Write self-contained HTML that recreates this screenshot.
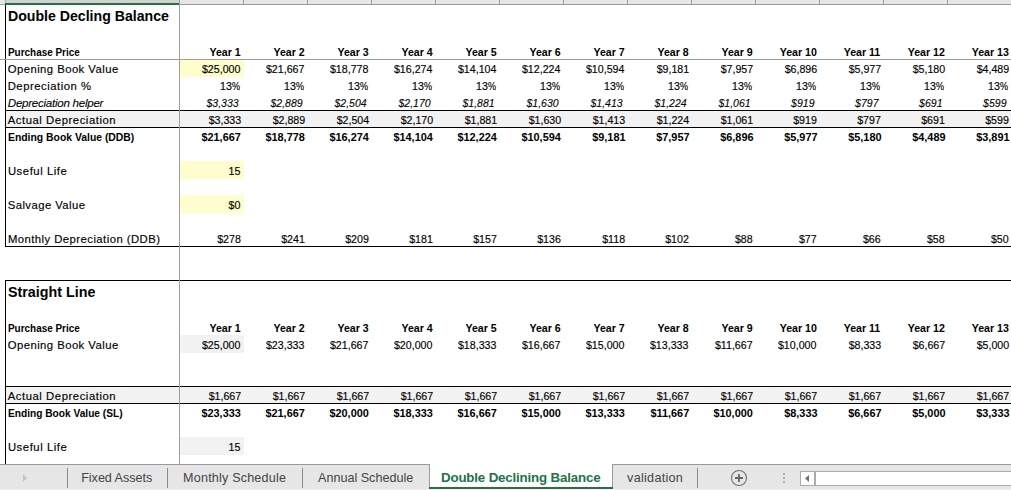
<!DOCTYPE html>
<html><head><meta charset="utf-8"><title>Double Declining Balance</title>
<style>
html,body{margin:0;padding:0;}
body{width:1011px;height:490px;overflow:hidden;background:#fff;position:relative;font-family:"Liberation Sans",sans-serif;color:#000;}
.x{position:absolute;white-space:nowrap;display:block;}
.r{position:absolute;}
.p{display:inline-block;transform:scaleX(.85);transform-origin:right center;margin-left:-1.2px;margin-right:0.7px;letter-spacing:0;}
</style></head><body>

<div class="r" style="left:0px;top:0px;width:1011px;height:4px;background:#e6e6e6;"></div>
<div class="r" style="left:0px;top:4px;width:5px;height:1px;background:#a3a3a3;"></div>
<div class="r" style="left:5px;top:0px;width:1px;height:3px;background:#ababab;"></div>
<div class="r" style="left:6px;top:0px;width:174px;height:3px;background:#d2d2d2;"></div>
<div class="r" style="left:5px;top:3px;width:175px;height:2px;background:#217346;"></div>
<div class="r" style="left:180px;top:4px;width:831px;height:1px;background:#9b9b9b;"></div>
<div class="r" style="left:179px;top:0px;width:1px;height:5px;background:#9b9b9b;"></div>
<div class="r" style="left:243px;top:0px;width:1px;height:5px;background:#9b9b9b;"></div>
<div class="r" style="left:307px;top:0px;width:1px;height:5px;background:#9b9b9b;"></div>
<div class="r" style="left:371px;top:0px;width:1px;height:5px;background:#9b9b9b;"></div>
<div class="r" style="left:435px;top:0px;width:1px;height:5px;background:#9b9b9b;"></div>
<div class="r" style="left:499px;top:0px;width:1px;height:5px;background:#9b9b9b;"></div>
<div class="r" style="left:563px;top:0px;width:1px;height:5px;background:#9b9b9b;"></div>
<div class="r" style="left:627px;top:0px;width:1px;height:5px;background:#9b9b9b;"></div>
<div class="r" style="left:691px;top:0px;width:1px;height:5px;background:#9b9b9b;"></div>
<div class="r" style="left:755px;top:0px;width:1px;height:5px;background:#9b9b9b;"></div>
<div class="r" style="left:819px;top:0px;width:1px;height:5px;background:#9b9b9b;"></div>
<div class="r" style="left:883px;top:0px;width:1px;height:5px;background:#9b9b9b;"></div>
<div class="r" style="left:947px;top:0px;width:1px;height:5px;background:#9b9b9b;"></div>
<div class="r" style="left:1011px;top:0px;width:1px;height:5px;background:#9b9b9b;"></div>
<div class="r" style="left:180px;top:60px;width:64px;height:17px;background:#fffccd;"></div>
<div class="r" style="left:180px;top:161px;width:64px;height:18px;background:#fffccd;"></div>
<div class="r" style="left:180px;top:195px;width:64px;height:18px;background:#fffccd;"></div>
<div class="r" style="left:6px;top:111px;width:1005px;height:16px;background:#f2f2f2;"></div>
<div class="r" style="left:180px;top:335px;width:64px;height:18px;background:#f2f2f2;"></div>
<div class="r" style="left:6px;top:387px;width:1005px;height:16px;background:#f2f2f2;"></div>
<div class="r" style="left:180px;top:437px;width:64px;height:18px;background:#f2f2f2;"></div>
<div class="r" style="left:5px;top:110px;width:1006px;height:1px;background:#000;"></div>
<div class="r" style="left:5px;top:127px;width:1006px;height:1px;background:#000;"></div>
<div class="r" style="left:5px;top:246px;width:1006px;height:1px;background:#000;"></div>
<div class="r" style="left:5px;top:280px;width:1006px;height:1px;background:#000;"></div>
<div class="r" style="left:5px;top:386px;width:1006px;height:1px;background:#000;"></div>
<div class="r" style="left:5px;top:403px;width:1006px;height:1px;background:#000;"></div>
<div class="r" style="left:5px;top:5px;width:1px;height:242px;background:#000;"></div>
<div class="r" style="left:5px;top:280px;width:1px;height:184px;background:#000;"></div>
<div class="r" style="left:0px;top:59px;width:1011px;height:1px;background:#9e9e9e;"></div>
<div class="r" style="left:179px;top:5px;width:1px;height:459px;background:#9e9e9e;"></div>
<span class="x" style="top:8.01px;font-size:14.40px;line-height:16px;font-weight:bold;left:7.60px;transform:scaleX(0.9815);transform-origin:left center;">Double Decling Balance</span>
<span class="x" style="top:43.82px;font-size:11.20px;line-height:16px;font-weight:bold;left:7.70px;transform:scaleX(0.8875);transform-origin:left center;">Purchase Price</span>
<span class="x" style="top:60.78px;font-size:11.30px;line-height:16px;letter-spacing:0.453px;-webkit-text-stroke:0.15px #000;left:7.70px;">Opening Book Value</span>
<span class="x" style="top:77.78px;font-size:11.30px;line-height:16px;letter-spacing:0.523px;-webkit-text-stroke:0.15px #000;left:7.70px;">Depreciation %</span>
<span class="x" style="top:94.68px;font-size:11.60px;line-height:16px;font-style:italic;letter-spacing:-0.270px;-webkit-text-stroke:0.10px #000;left:7.80px;">Depreciation helper</span>
<span class="x" style="top:111.78px;font-size:11.30px;line-height:16px;letter-spacing:0.556px;-webkit-text-stroke:0.15px #000;left:7.70px;">Actual Depreciation</span>
<span class="x" style="top:128.82px;font-size:11.20px;line-height:16px;font-weight:bold;left:7.80px;transform:scaleX(0.9280);transform-origin:left center;">Ending Book Value (DDB)</span>
<span class="x" style="top:162.78px;font-size:11.30px;line-height:16px;letter-spacing:0.550px;-webkit-text-stroke:0.15px #000;left:7.90px;">Useful Life</span>
<span class="x" style="top:196.78px;font-size:11.30px;line-height:16px;letter-spacing:0.441px;-webkit-text-stroke:0.15px #000;left:7.70px;">Salvage Value</span>
<span class="x" style="top:230.78px;font-size:11.30px;line-height:16px;letter-spacing:0.456px;-webkit-text-stroke:0.15px #000;left:7.90px;">Monthly Depreciation (DDB)</span>
<span class="x" style="top:283.71px;font-size:14.40px;line-height:16px;font-weight:bold;left:7.60px;transform:scaleX(0.9936);transform-origin:left center;">Straight Line</span>
<span class="x" style="top:319.82px;font-size:11.20px;line-height:16px;font-weight:bold;left:7.70px;transform:scaleX(0.8875);transform-origin:left center;">Purchase Price</span>
<span class="x" style="top:336.78px;font-size:11.30px;line-height:16px;letter-spacing:0.453px;-webkit-text-stroke:0.15px #000;left:7.70px;">Opening Book Value</span>
<span class="x" style="top:387.78px;font-size:11.30px;line-height:16px;letter-spacing:0.556px;-webkit-text-stroke:0.15px #000;left:7.70px;">Actual Depreciation</span>
<span class="x" style="top:404.82px;font-size:11.20px;line-height:16px;font-weight:bold;left:7.80px;transform:scaleX(0.9081);transform-origin:left center;">Ending Book Value (SL)</span>
<span class="x" style="top:438.78px;font-size:11.30px;line-height:16px;letter-spacing:0.550px;-webkit-text-stroke:0.15px #000;left:7.90px;">Useful Life</span>
<span class="x" style="top:43.85px;font-size:11.10px;line-height:16px;font-weight:bold;right:770.60px;transform:scaleX(0.9550);transform-origin:right center;">Year 1</span>
<span class="x" style="top:43.85px;font-size:11.10px;line-height:16px;font-weight:bold;right:706.60px;transform:scaleX(0.9550);transform-origin:right center;">Year 2</span>
<span class="x" style="top:43.85px;font-size:11.10px;line-height:16px;font-weight:bold;right:642.60px;transform:scaleX(0.9550);transform-origin:right center;">Year 3</span>
<span class="x" style="top:43.85px;font-size:11.10px;line-height:16px;font-weight:bold;right:578.60px;transform:scaleX(0.9550);transform-origin:right center;">Year 4</span>
<span class="x" style="top:43.85px;font-size:11.10px;line-height:16px;font-weight:bold;right:514.60px;transform:scaleX(0.9550);transform-origin:right center;">Year 5</span>
<span class="x" style="top:43.85px;font-size:11.10px;line-height:16px;font-weight:bold;right:450.60px;transform:scaleX(0.9550);transform-origin:right center;">Year 6</span>
<span class="x" style="top:43.85px;font-size:11.10px;line-height:16px;font-weight:bold;right:386.60px;transform:scaleX(0.9550);transform-origin:right center;">Year 7</span>
<span class="x" style="top:43.85px;font-size:11.10px;line-height:16px;font-weight:bold;right:322.60px;transform:scaleX(0.9550);transform-origin:right center;">Year 8</span>
<span class="x" style="top:43.85px;font-size:11.10px;line-height:16px;font-weight:bold;right:258.60px;transform:scaleX(0.9550);transform-origin:right center;">Year 9</span>
<span class="x" style="top:43.85px;font-size:11.10px;line-height:16px;font-weight:bold;right:194.60px;transform:scaleX(0.9550);transform-origin:right center;">Year 10</span>
<span class="x" style="top:43.85px;font-size:11.10px;line-height:16px;font-weight:bold;right:130.60px;transform:scaleX(0.9550);transform-origin:right center;">Year 11</span>
<span class="x" style="top:43.85px;font-size:11.10px;line-height:16px;font-weight:bold;right:66.60px;transform:scaleX(0.9550);transform-origin:right center;">Year 12</span>
<span class="x" style="top:43.85px;font-size:11.10px;line-height:16px;font-weight:bold;right:2.60px;transform:scaleX(0.9550);transform-origin:right center;">Year 13</span>
<span class="x" style="top:61.02px;font-size:11.20px;line-height:16px;-webkit-text-stroke:0.15px #000;right:770.20px;transform:scaleX(0.9520);transform-origin:right center;">$25,000</span>
<span class="x" style="top:61.02px;font-size:11.20px;line-height:16px;-webkit-text-stroke:0.15px #000;right:706.20px;transform:scaleX(0.9520);transform-origin:right center;">$21,667</span>
<span class="x" style="top:61.02px;font-size:11.20px;line-height:16px;-webkit-text-stroke:0.15px #000;right:642.20px;transform:scaleX(0.9520);transform-origin:right center;">$18,778</span>
<span class="x" style="top:61.02px;font-size:11.20px;line-height:16px;-webkit-text-stroke:0.15px #000;right:578.20px;transform:scaleX(0.9520);transform-origin:right center;">$16,274</span>
<span class="x" style="top:61.02px;font-size:11.20px;line-height:16px;-webkit-text-stroke:0.15px #000;right:514.20px;transform:scaleX(0.9520);transform-origin:right center;">$14,104</span>
<span class="x" style="top:61.02px;font-size:11.20px;line-height:16px;-webkit-text-stroke:0.15px #000;right:450.20px;transform:scaleX(0.9520);transform-origin:right center;">$12,224</span>
<span class="x" style="top:61.02px;font-size:11.20px;line-height:16px;-webkit-text-stroke:0.15px #000;right:386.20px;transform:scaleX(0.9520);transform-origin:right center;">$10,594</span>
<span class="x" style="top:61.02px;font-size:11.20px;line-height:16px;-webkit-text-stroke:0.15px #000;right:322.20px;transform:scaleX(0.9520);transform-origin:right center;">$9,181</span>
<span class="x" style="top:61.02px;font-size:11.20px;line-height:16px;-webkit-text-stroke:0.15px #000;right:258.20px;transform:scaleX(0.9520);transform-origin:right center;">$7,957</span>
<span class="x" style="top:61.02px;font-size:11.20px;line-height:16px;-webkit-text-stroke:0.15px #000;right:194.20px;transform:scaleX(0.9520);transform-origin:right center;">$6,896</span>
<span class="x" style="top:61.02px;font-size:11.20px;line-height:16px;-webkit-text-stroke:0.15px #000;right:130.20px;transform:scaleX(0.9520);transform-origin:right center;">$5,977</span>
<span class="x" style="top:61.02px;font-size:11.20px;line-height:16px;-webkit-text-stroke:0.15px #000;right:66.20px;transform:scaleX(0.9520);transform-origin:right center;">$5,180</span>
<span class="x" style="top:61.02px;font-size:11.20px;line-height:16px;-webkit-text-stroke:0.15px #000;right:2.20px;transform:scaleX(0.9520);transform-origin:right center;">$4,489</span>
<span class="x" style="top:78.02px;font-size:11.20px;line-height:16px;-webkit-text-stroke:0.15px #000;right:770.20px;transform:scaleX(0.9520);transform-origin:right center;">13<span class="p">%</span></span>
<span class="x" style="top:78.02px;font-size:11.20px;line-height:16px;-webkit-text-stroke:0.15px #000;right:706.20px;transform:scaleX(0.9520);transform-origin:right center;">13<span class="p">%</span></span>
<span class="x" style="top:78.02px;font-size:11.20px;line-height:16px;-webkit-text-stroke:0.15px #000;right:642.20px;transform:scaleX(0.9520);transform-origin:right center;">13<span class="p">%</span></span>
<span class="x" style="top:78.02px;font-size:11.20px;line-height:16px;-webkit-text-stroke:0.15px #000;right:578.20px;transform:scaleX(0.9520);transform-origin:right center;">13<span class="p">%</span></span>
<span class="x" style="top:78.02px;font-size:11.20px;line-height:16px;-webkit-text-stroke:0.15px #000;right:514.20px;transform:scaleX(0.9520);transform-origin:right center;">13<span class="p">%</span></span>
<span class="x" style="top:78.02px;font-size:11.20px;line-height:16px;-webkit-text-stroke:0.15px #000;right:450.20px;transform:scaleX(0.9520);transform-origin:right center;">13<span class="p">%</span></span>
<span class="x" style="top:78.02px;font-size:11.20px;line-height:16px;-webkit-text-stroke:0.15px #000;right:386.20px;transform:scaleX(0.9520);transform-origin:right center;">13<span class="p">%</span></span>
<span class="x" style="top:78.02px;font-size:11.20px;line-height:16px;-webkit-text-stroke:0.15px #000;right:322.20px;transform:scaleX(0.9520);transform-origin:right center;">13<span class="p">%</span></span>
<span class="x" style="top:78.02px;font-size:11.20px;line-height:16px;-webkit-text-stroke:0.15px #000;right:258.20px;transform:scaleX(0.9520);transform-origin:right center;">13<span class="p">%</span></span>
<span class="x" style="top:78.02px;font-size:11.20px;line-height:16px;-webkit-text-stroke:0.15px #000;right:194.20px;transform:scaleX(0.9520);transform-origin:right center;">13<span class="p">%</span></span>
<span class="x" style="top:78.02px;font-size:11.20px;line-height:16px;-webkit-text-stroke:0.15px #000;right:130.20px;transform:scaleX(0.9520);transform-origin:right center;">13<span class="p">%</span></span>
<span class="x" style="top:78.02px;font-size:11.20px;line-height:16px;-webkit-text-stroke:0.15px #000;right:66.20px;transform:scaleX(0.9520);transform-origin:right center;">13<span class="p">%</span></span>
<span class="x" style="top:78.02px;font-size:11.20px;line-height:16px;-webkit-text-stroke:0.15px #000;right:2.20px;transform:scaleX(0.9520);transform-origin:right center;">13<span class="p">%</span></span>
<span class="x" style="top:94.89px;font-size:11.00px;line-height:16px;font-style:italic;-webkit-text-stroke:0.10px #000;right:772.40px;transform:scaleX(0.9550);transform-origin:right center;">$3,333</span>
<span class="x" style="top:94.89px;font-size:11.00px;line-height:16px;font-style:italic;-webkit-text-stroke:0.10px #000;right:708.40px;transform:scaleX(0.9550);transform-origin:right center;">$2,889</span>
<span class="x" style="top:94.89px;font-size:11.00px;line-height:16px;font-style:italic;-webkit-text-stroke:0.10px #000;right:644.40px;transform:scaleX(0.9550);transform-origin:right center;">$2,504</span>
<span class="x" style="top:94.89px;font-size:11.00px;line-height:16px;font-style:italic;-webkit-text-stroke:0.10px #000;right:580.40px;transform:scaleX(0.9550);transform-origin:right center;">$2,170</span>
<span class="x" style="top:94.89px;font-size:11.00px;line-height:16px;font-style:italic;-webkit-text-stroke:0.10px #000;right:516.40px;transform:scaleX(0.9550);transform-origin:right center;">$1,881</span>
<span class="x" style="top:94.89px;font-size:11.00px;line-height:16px;font-style:italic;-webkit-text-stroke:0.10px #000;right:452.40px;transform:scaleX(0.9550);transform-origin:right center;">$1,630</span>
<span class="x" style="top:94.89px;font-size:11.00px;line-height:16px;font-style:italic;-webkit-text-stroke:0.10px #000;right:388.40px;transform:scaleX(0.9550);transform-origin:right center;">$1,413</span>
<span class="x" style="top:94.89px;font-size:11.00px;line-height:16px;font-style:italic;-webkit-text-stroke:0.10px #000;right:324.40px;transform:scaleX(0.9550);transform-origin:right center;">$1,224</span>
<span class="x" style="top:94.89px;font-size:11.00px;line-height:16px;font-style:italic;-webkit-text-stroke:0.10px #000;right:260.40px;transform:scaleX(0.9550);transform-origin:right center;">$1,061</span>
<span class="x" style="top:94.89px;font-size:11.00px;line-height:16px;font-style:italic;-webkit-text-stroke:0.10px #000;right:196.40px;transform:scaleX(0.9550);transform-origin:right center;">$919</span>
<span class="x" style="top:94.89px;font-size:11.00px;line-height:16px;font-style:italic;-webkit-text-stroke:0.10px #000;right:132.40px;transform:scaleX(0.9550);transform-origin:right center;">$797</span>
<span class="x" style="top:94.89px;font-size:11.00px;line-height:16px;font-style:italic;-webkit-text-stroke:0.10px #000;right:68.40px;transform:scaleX(0.9550);transform-origin:right center;">$691</span>
<span class="x" style="top:94.89px;font-size:11.00px;line-height:16px;font-style:italic;-webkit-text-stroke:0.10px #000;right:4.40px;transform:scaleX(0.9550);transform-origin:right center;">$599</span>
<span class="x" style="top:112.02px;font-size:11.20px;line-height:16px;-webkit-text-stroke:0.15px #000;right:770.20px;transform:scaleX(0.9520);transform-origin:right center;">$3,333</span>
<span class="x" style="top:112.02px;font-size:11.20px;line-height:16px;-webkit-text-stroke:0.15px #000;right:706.20px;transform:scaleX(0.9520);transform-origin:right center;">$2,889</span>
<span class="x" style="top:112.02px;font-size:11.20px;line-height:16px;-webkit-text-stroke:0.15px #000;right:642.20px;transform:scaleX(0.9520);transform-origin:right center;">$2,504</span>
<span class="x" style="top:112.02px;font-size:11.20px;line-height:16px;-webkit-text-stroke:0.15px #000;right:578.20px;transform:scaleX(0.9520);transform-origin:right center;">$2,170</span>
<span class="x" style="top:112.02px;font-size:11.20px;line-height:16px;-webkit-text-stroke:0.15px #000;right:514.20px;transform:scaleX(0.9520);transform-origin:right center;">$1,881</span>
<span class="x" style="top:112.02px;font-size:11.20px;line-height:16px;-webkit-text-stroke:0.15px #000;right:450.20px;transform:scaleX(0.9520);transform-origin:right center;">$1,630</span>
<span class="x" style="top:112.02px;font-size:11.20px;line-height:16px;-webkit-text-stroke:0.15px #000;right:386.20px;transform:scaleX(0.9520);transform-origin:right center;">$1,413</span>
<span class="x" style="top:112.02px;font-size:11.20px;line-height:16px;-webkit-text-stroke:0.15px #000;right:322.20px;transform:scaleX(0.9520);transform-origin:right center;">$1,224</span>
<span class="x" style="top:112.02px;font-size:11.20px;line-height:16px;-webkit-text-stroke:0.15px #000;right:258.20px;transform:scaleX(0.9520);transform-origin:right center;">$1,061</span>
<span class="x" style="top:112.02px;font-size:11.20px;line-height:16px;-webkit-text-stroke:0.15px #000;right:194.20px;transform:scaleX(0.9520);transform-origin:right center;">$919</span>
<span class="x" style="top:112.02px;font-size:11.20px;line-height:16px;-webkit-text-stroke:0.15px #000;right:130.20px;transform:scaleX(0.9520);transform-origin:right center;">$797</span>
<span class="x" style="top:112.02px;font-size:11.20px;line-height:16px;-webkit-text-stroke:0.15px #000;right:66.20px;transform:scaleX(0.9520);transform-origin:right center;">$691</span>
<span class="x" style="top:112.02px;font-size:11.20px;line-height:16px;-webkit-text-stroke:0.15px #000;right:2.20px;transform:scaleX(0.9520);transform-origin:right center;">$599</span>
<span class="x" style="top:128.78px;font-size:11.30px;line-height:16px;font-weight:bold;right:769.70px;transform:scaleX(0.9650);transform-origin:right center;">$21,667</span>
<span class="x" style="top:128.78px;font-size:11.30px;line-height:16px;font-weight:bold;right:705.70px;transform:scaleX(0.9650);transform-origin:right center;">$18,778</span>
<span class="x" style="top:128.78px;font-size:11.30px;line-height:16px;font-weight:bold;right:641.70px;transform:scaleX(0.9650);transform-origin:right center;">$16,274</span>
<span class="x" style="top:128.78px;font-size:11.30px;line-height:16px;font-weight:bold;right:577.70px;transform:scaleX(0.9650);transform-origin:right center;">$14,104</span>
<span class="x" style="top:128.78px;font-size:11.30px;line-height:16px;font-weight:bold;right:513.70px;transform:scaleX(0.9650);transform-origin:right center;">$12,224</span>
<span class="x" style="top:128.78px;font-size:11.30px;line-height:16px;font-weight:bold;right:449.70px;transform:scaleX(0.9650);transform-origin:right center;">$10,594</span>
<span class="x" style="top:128.78px;font-size:11.30px;line-height:16px;font-weight:bold;right:385.70px;transform:scaleX(0.9650);transform-origin:right center;">$9,181</span>
<span class="x" style="top:128.78px;font-size:11.30px;line-height:16px;font-weight:bold;right:321.70px;transform:scaleX(0.9650);transform-origin:right center;">$7,957</span>
<span class="x" style="top:128.78px;font-size:11.30px;line-height:16px;font-weight:bold;right:257.70px;transform:scaleX(0.9650);transform-origin:right center;">$6,896</span>
<span class="x" style="top:128.78px;font-size:11.30px;line-height:16px;font-weight:bold;right:193.70px;transform:scaleX(0.9650);transform-origin:right center;">$5,977</span>
<span class="x" style="top:128.78px;font-size:11.30px;line-height:16px;font-weight:bold;right:129.70px;transform:scaleX(0.9650);transform-origin:right center;">$5,180</span>
<span class="x" style="top:128.78px;font-size:11.30px;line-height:16px;font-weight:bold;right:65.70px;transform:scaleX(0.9650);transform-origin:right center;">$4,489</span>
<span class="x" style="top:128.78px;font-size:11.30px;line-height:16px;font-weight:bold;right:1.70px;transform:scaleX(0.9650);transform-origin:right center;">$3,891</span>
<span class="x" style="top:163.02px;font-size:11.20px;line-height:16px;-webkit-text-stroke:0.15px #000;right:770.20px;transform:scaleX(0.9520);transform-origin:right center;">15</span>
<span class="x" style="top:197.02px;font-size:11.20px;line-height:16px;-webkit-text-stroke:0.15px #000;right:770.20px;transform:scaleX(0.9520);transform-origin:right center;">$0</span>
<span class="x" style="top:231.02px;font-size:11.20px;line-height:16px;-webkit-text-stroke:0.15px #000;right:770.20px;transform:scaleX(0.9520);transform-origin:right center;">$278</span>
<span class="x" style="top:231.02px;font-size:11.20px;line-height:16px;-webkit-text-stroke:0.15px #000;right:706.20px;transform:scaleX(0.9520);transform-origin:right center;">$241</span>
<span class="x" style="top:231.02px;font-size:11.20px;line-height:16px;-webkit-text-stroke:0.15px #000;right:642.20px;transform:scaleX(0.9520);transform-origin:right center;">$209</span>
<span class="x" style="top:231.02px;font-size:11.20px;line-height:16px;-webkit-text-stroke:0.15px #000;right:578.20px;transform:scaleX(0.9520);transform-origin:right center;">$181</span>
<span class="x" style="top:231.02px;font-size:11.20px;line-height:16px;-webkit-text-stroke:0.15px #000;right:514.20px;transform:scaleX(0.9520);transform-origin:right center;">$157</span>
<span class="x" style="top:231.02px;font-size:11.20px;line-height:16px;-webkit-text-stroke:0.15px #000;right:450.20px;transform:scaleX(0.9520);transform-origin:right center;">$136</span>
<span class="x" style="top:231.02px;font-size:11.20px;line-height:16px;-webkit-text-stroke:0.15px #000;right:386.20px;transform:scaleX(0.9520);transform-origin:right center;">$118</span>
<span class="x" style="top:231.02px;font-size:11.20px;line-height:16px;-webkit-text-stroke:0.15px #000;right:322.20px;transform:scaleX(0.9520);transform-origin:right center;">$102</span>
<span class="x" style="top:231.02px;font-size:11.20px;line-height:16px;-webkit-text-stroke:0.15px #000;right:258.20px;transform:scaleX(0.9520);transform-origin:right center;">$88</span>
<span class="x" style="top:231.02px;font-size:11.20px;line-height:16px;-webkit-text-stroke:0.15px #000;right:194.20px;transform:scaleX(0.9520);transform-origin:right center;">$77</span>
<span class="x" style="top:231.02px;font-size:11.20px;line-height:16px;-webkit-text-stroke:0.15px #000;right:130.20px;transform:scaleX(0.9520);transform-origin:right center;">$66</span>
<span class="x" style="top:231.02px;font-size:11.20px;line-height:16px;-webkit-text-stroke:0.15px #000;right:66.20px;transform:scaleX(0.9520);transform-origin:right center;">$58</span>
<span class="x" style="top:231.02px;font-size:11.20px;line-height:16px;-webkit-text-stroke:0.15px #000;right:2.20px;transform:scaleX(0.9520);transform-origin:right center;">$50</span>
<span class="x" style="top:319.85px;font-size:11.10px;line-height:16px;font-weight:bold;right:770.60px;transform:scaleX(0.9550);transform-origin:right center;">Year 1</span>
<span class="x" style="top:319.85px;font-size:11.10px;line-height:16px;font-weight:bold;right:706.60px;transform:scaleX(0.9550);transform-origin:right center;">Year 2</span>
<span class="x" style="top:319.85px;font-size:11.10px;line-height:16px;font-weight:bold;right:642.60px;transform:scaleX(0.9550);transform-origin:right center;">Year 3</span>
<span class="x" style="top:319.85px;font-size:11.10px;line-height:16px;font-weight:bold;right:578.60px;transform:scaleX(0.9550);transform-origin:right center;">Year 4</span>
<span class="x" style="top:319.85px;font-size:11.10px;line-height:16px;font-weight:bold;right:514.60px;transform:scaleX(0.9550);transform-origin:right center;">Year 5</span>
<span class="x" style="top:319.85px;font-size:11.10px;line-height:16px;font-weight:bold;right:450.60px;transform:scaleX(0.9550);transform-origin:right center;">Year 6</span>
<span class="x" style="top:319.85px;font-size:11.10px;line-height:16px;font-weight:bold;right:386.60px;transform:scaleX(0.9550);transform-origin:right center;">Year 7</span>
<span class="x" style="top:319.85px;font-size:11.10px;line-height:16px;font-weight:bold;right:322.60px;transform:scaleX(0.9550);transform-origin:right center;">Year 8</span>
<span class="x" style="top:319.85px;font-size:11.10px;line-height:16px;font-weight:bold;right:258.60px;transform:scaleX(0.9550);transform-origin:right center;">Year 9</span>
<span class="x" style="top:319.85px;font-size:11.10px;line-height:16px;font-weight:bold;right:194.60px;transform:scaleX(0.9550);transform-origin:right center;">Year 10</span>
<span class="x" style="top:319.85px;font-size:11.10px;line-height:16px;font-weight:bold;right:130.60px;transform:scaleX(0.9550);transform-origin:right center;">Year 11</span>
<span class="x" style="top:319.85px;font-size:11.10px;line-height:16px;font-weight:bold;right:66.60px;transform:scaleX(0.9550);transform-origin:right center;">Year 12</span>
<span class="x" style="top:319.85px;font-size:11.10px;line-height:16px;font-weight:bold;right:2.60px;transform:scaleX(0.9550);transform-origin:right center;">Year 13</span>
<span class="x" style="top:337.02px;font-size:11.20px;line-height:16px;-webkit-text-stroke:0.15px #000;right:770.20px;transform:scaleX(0.9520);transform-origin:right center;">$25,000</span>
<span class="x" style="top:337.02px;font-size:11.20px;line-height:16px;-webkit-text-stroke:0.15px #000;right:706.20px;transform:scaleX(0.9520);transform-origin:right center;">$23,333</span>
<span class="x" style="top:337.02px;font-size:11.20px;line-height:16px;-webkit-text-stroke:0.15px #000;right:642.20px;transform:scaleX(0.9520);transform-origin:right center;">$21,667</span>
<span class="x" style="top:337.02px;font-size:11.20px;line-height:16px;-webkit-text-stroke:0.15px #000;right:578.20px;transform:scaleX(0.9520);transform-origin:right center;">$20,000</span>
<span class="x" style="top:337.02px;font-size:11.20px;line-height:16px;-webkit-text-stroke:0.15px #000;right:514.20px;transform:scaleX(0.9520);transform-origin:right center;">$18,333</span>
<span class="x" style="top:337.02px;font-size:11.20px;line-height:16px;-webkit-text-stroke:0.15px #000;right:450.20px;transform:scaleX(0.9520);transform-origin:right center;">$16,667</span>
<span class="x" style="top:337.02px;font-size:11.20px;line-height:16px;-webkit-text-stroke:0.15px #000;right:386.20px;transform:scaleX(0.9520);transform-origin:right center;">$15,000</span>
<span class="x" style="top:337.02px;font-size:11.20px;line-height:16px;-webkit-text-stroke:0.15px #000;right:322.20px;transform:scaleX(0.9520);transform-origin:right center;">$13,333</span>
<span class="x" style="top:337.02px;font-size:11.20px;line-height:16px;-webkit-text-stroke:0.15px #000;right:258.20px;transform:scaleX(0.9520);transform-origin:right center;">$11,667</span>
<span class="x" style="top:337.02px;font-size:11.20px;line-height:16px;-webkit-text-stroke:0.15px #000;right:194.20px;transform:scaleX(0.9520);transform-origin:right center;">$10,000</span>
<span class="x" style="top:337.02px;font-size:11.20px;line-height:16px;-webkit-text-stroke:0.15px #000;right:130.20px;transform:scaleX(0.9520);transform-origin:right center;">$8,333</span>
<span class="x" style="top:337.02px;font-size:11.20px;line-height:16px;-webkit-text-stroke:0.15px #000;right:66.20px;transform:scaleX(0.9520);transform-origin:right center;">$6,667</span>
<span class="x" style="top:337.02px;font-size:11.20px;line-height:16px;-webkit-text-stroke:0.15px #000;right:2.20px;transform:scaleX(0.9520);transform-origin:right center;">$5,000</span>
<span class="x" style="top:388.02px;font-size:11.20px;line-height:16px;-webkit-text-stroke:0.15px #000;right:770.20px;transform:scaleX(0.9520);transform-origin:right center;">$1,667</span>
<span class="x" style="top:388.02px;font-size:11.20px;line-height:16px;-webkit-text-stroke:0.15px #000;right:706.20px;transform:scaleX(0.9520);transform-origin:right center;">$1,667</span>
<span class="x" style="top:388.02px;font-size:11.20px;line-height:16px;-webkit-text-stroke:0.15px #000;right:642.20px;transform:scaleX(0.9520);transform-origin:right center;">$1,667</span>
<span class="x" style="top:388.02px;font-size:11.20px;line-height:16px;-webkit-text-stroke:0.15px #000;right:578.20px;transform:scaleX(0.9520);transform-origin:right center;">$1,667</span>
<span class="x" style="top:388.02px;font-size:11.20px;line-height:16px;-webkit-text-stroke:0.15px #000;right:514.20px;transform:scaleX(0.9520);transform-origin:right center;">$1,667</span>
<span class="x" style="top:388.02px;font-size:11.20px;line-height:16px;-webkit-text-stroke:0.15px #000;right:450.20px;transform:scaleX(0.9520);transform-origin:right center;">$1,667</span>
<span class="x" style="top:388.02px;font-size:11.20px;line-height:16px;-webkit-text-stroke:0.15px #000;right:386.20px;transform:scaleX(0.9520);transform-origin:right center;">$1,667</span>
<span class="x" style="top:388.02px;font-size:11.20px;line-height:16px;-webkit-text-stroke:0.15px #000;right:322.20px;transform:scaleX(0.9520);transform-origin:right center;">$1,667</span>
<span class="x" style="top:388.02px;font-size:11.20px;line-height:16px;-webkit-text-stroke:0.15px #000;right:258.20px;transform:scaleX(0.9520);transform-origin:right center;">$1,667</span>
<span class="x" style="top:388.02px;font-size:11.20px;line-height:16px;-webkit-text-stroke:0.15px #000;right:194.20px;transform:scaleX(0.9520);transform-origin:right center;">$1,667</span>
<span class="x" style="top:388.02px;font-size:11.20px;line-height:16px;-webkit-text-stroke:0.15px #000;right:130.20px;transform:scaleX(0.9520);transform-origin:right center;">$1,667</span>
<span class="x" style="top:388.02px;font-size:11.20px;line-height:16px;-webkit-text-stroke:0.15px #000;right:66.20px;transform:scaleX(0.9520);transform-origin:right center;">$1,667</span>
<span class="x" style="top:388.02px;font-size:11.20px;line-height:16px;-webkit-text-stroke:0.15px #000;right:2.20px;transform:scaleX(0.9520);transform-origin:right center;">$1,667</span>
<span class="x" style="top:404.78px;font-size:11.30px;line-height:16px;font-weight:bold;right:769.70px;transform:scaleX(0.9650);transform-origin:right center;">$23,333</span>
<span class="x" style="top:404.78px;font-size:11.30px;line-height:16px;font-weight:bold;right:705.70px;transform:scaleX(0.9650);transform-origin:right center;">$21,667</span>
<span class="x" style="top:404.78px;font-size:11.30px;line-height:16px;font-weight:bold;right:641.70px;transform:scaleX(0.9650);transform-origin:right center;">$20,000</span>
<span class="x" style="top:404.78px;font-size:11.30px;line-height:16px;font-weight:bold;right:577.70px;transform:scaleX(0.9650);transform-origin:right center;">$18,333</span>
<span class="x" style="top:404.78px;font-size:11.30px;line-height:16px;font-weight:bold;right:513.70px;transform:scaleX(0.9650);transform-origin:right center;">$16,667</span>
<span class="x" style="top:404.78px;font-size:11.30px;line-height:16px;font-weight:bold;right:449.70px;transform:scaleX(0.9650);transform-origin:right center;">$15,000</span>
<span class="x" style="top:404.78px;font-size:11.30px;line-height:16px;font-weight:bold;right:385.70px;transform:scaleX(0.9650);transform-origin:right center;">$13,333</span>
<span class="x" style="top:404.78px;font-size:11.30px;line-height:16px;font-weight:bold;right:321.70px;transform:scaleX(0.9650);transform-origin:right center;">$11,667</span>
<span class="x" style="top:404.78px;font-size:11.30px;line-height:16px;font-weight:bold;right:257.70px;transform:scaleX(0.9650);transform-origin:right center;">$10,000</span>
<span class="x" style="top:404.78px;font-size:11.30px;line-height:16px;font-weight:bold;right:193.70px;transform:scaleX(0.9650);transform-origin:right center;">$8,333</span>
<span class="x" style="top:404.78px;font-size:11.30px;line-height:16px;font-weight:bold;right:129.70px;transform:scaleX(0.9650);transform-origin:right center;">$6,667</span>
<span class="x" style="top:404.78px;font-size:11.30px;line-height:16px;font-weight:bold;right:65.70px;transform:scaleX(0.9650);transform-origin:right center;">$5,000</span>
<span class="x" style="top:404.78px;font-size:11.30px;line-height:16px;font-weight:bold;right:1.70px;transform:scaleX(0.9650);transform-origin:right center;">$3,333</span>
<span class="x" style="top:439.02px;font-size:11.20px;line-height:16px;-webkit-text-stroke:0.15px #000;right:770.20px;transform:scaleX(0.9520);transform-origin:right center;">15</span>
<div class="r" style="left:0;top:464px;width:1011px;height:26px;background:#e6e6e6;"></div>
<div class="r" style="left:0;top:489px;width:1011px;height:1px;background:#eeeeee;"></div>
<div class="r" style="left:0;top:464px;width:430px;height:1px;background:#9b9b9b;"></div>
<div class="r" style="left:612px;top:464px;width:399px;height:1px;background:#9b9b9b;"></div>
<!-- active tab -->
<div class="r" style="left:430px;top:464px;width:182px;height:23px;background:#fff;"></div>
<div class="r" style="left:429px;top:464px;width:1px;height:23px;background:#9b9b9b;"></div>
<div class="r" style="left:612px;top:464px;width:1px;height:23px;background:#9b9b9b;"></div>
<div class="r" style="left:429px;top:487px;width:184px;height:2px;background:#217346;"></div>
<div class="r" style="left:429px;top:489px;width:184px;height:1px;background:#f8f4f4;"></div>
<!-- separators -->
<div class="r" style="left:67px;top:468px;width:1px;height:20px;background:#8a8a8a;"></div>
<div class="r" style="left:167px;top:468px;width:1px;height:20px;background:#8a8a8a;"></div>
<div class="r" style="left:302px;top:468px;width:1px;height:20px;background:#8a8a8a;"></div>
<div class="r" style="left:697px;top:468px;width:1px;height:20px;background:#8a8a8a;"></div>
<!-- nav arrow -->
<svg class="r" style="left:22px;top:472.5px;" width="6" height="10" viewBox="0 0 6 10"><path d="M1 1 L5 5 L1 9 Z" fill="#c3c3c3"/></svg>
<!-- tab labels -->
<span class="x tb" style="left:81.2px;letter-spacing:-0.03px;">Fixed Assets</span>
<span class="x tb" style="left:183.1px;letter-spacing:0.18px;">Monthly Schedule</span>
<span class="x tb" style="left:318px;letter-spacing:0.0px;">Annual Schedule</span>
<span class="x tb" style="left:441px;font-weight:bold;color:#217346;font-size:13.3px;letter-spacing:-0.16px;">Double Declining Balance</span>
<span class="x tb" style="left:627.1px;letter-spacing:0.28px;">validation</span>
<!-- plus -->
<svg class="r" style="left:730px;top:469px;" width="18" height="18" viewBox="0 0 18 18"><circle cx="9" cy="9" r="7.5" fill="none" stroke="#707070" stroke-width="1.1"/><path d="M5 9 H13 M9 5 V13" stroke="#666" stroke-width="1.8" fill="none"/></svg>
<!-- dots -->
<div class="r" style="left:783px;top:473px;width:2px;height:2px;background:#b0b0b0;"></div>
<div class="r" style="left:783px;top:477px;width:2px;height:2px;background:#b0b0b0;"></div>
<div class="r" style="left:783px;top:481px;width:2px;height:2px;background:#b0b0b0;"></div>
<!-- scrollbar -->
<div class="r" style="left:800px;top:471px;width:216px;height:15px;background:#fff;border:1px solid #ababab;box-sizing:border-box;"></div>
<div class="r" style="left:814px;top:471px;width:2px;height:15px;background:#ababab;"></div>
<svg class="r" style="left:804px;top:474px;" width="6" height="9" viewBox="0 0 6 9"><path d="M5 1 L1 4.5 L5 8 Z" fill="#707070"/></svg>
<style>.tb{font-size:12.6px;line-height:18px;color:#444;top:468.6px;}</style>

</body></html>
